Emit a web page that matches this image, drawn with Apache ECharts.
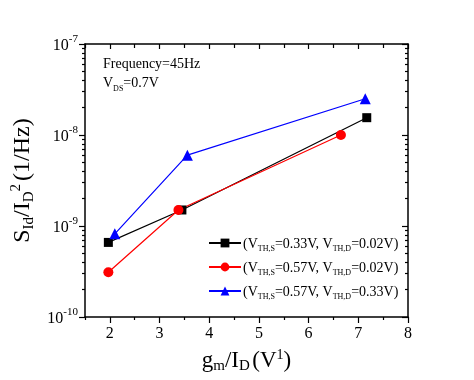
<!DOCTYPE html>
<html>
<head>
<meta charset="utf-8">
<script src="https://cdn.jsdelivr.net/npm/echarts@6/dist/echarts.min.js"></script>
<style>
html,body{margin:0;padding:0;background:#fff;}
#c{width:474px;height:380px;}
</style>
</head>
<body>
<div id="c"></div>
<script>
// ---- data ----
const seriesNames = ['s1', 's2', 's3'];
const seriesLegends = [
  ['0.33V', '0.02V'],
  ['0.57V', '0.02V'],
  ['0.57V', '0.33V']
];
const blackX = [1.97, 3.45, 7.17];
const blackY = [6.6e-10, 1.5e-9, 1.55e-8];
const redX = [1.97, 3.38, 6.65];
const redY = [3.1e-10, 1.5e-9, 1.0e-8];
const blueX = [2.1, 3.56, 7.14];
const blueY = [8.2e-10, 6.0e-9, 2.5e-8];
const xMajorTicks = [2, 3, 4, 5, 6, 7, 8];
const xMinorTicks = [1.5, 2.5, 3.5, 4.5, 5.5, 6.5, 7.5];
const yDecadeExps = [-10, -9, -8, -7];

const FONT = 'Liberation Serif';
const pairs = (xs, ys) => xs.map((x, i) => [x, ys[i]]);

// minor log tick positions (log10 space), for helper axes
const yMinorLog = [];
for (let n = yDecadeExps[0]; n < yDecadeExps[yDecadeExps.length - 1]; n++) {
  for (let k = 2; k <= 9; k++) yMinorLog.push(n + Math.log10(k));
}

const chart = echarts.init(document.getElementById('c'), null, {renderer: 'canvas'});
const lineC = '#000';
const grid = {left: 85, right: 66, top: 44, bottom: 63};

const baseX = {
  type: 'value', min: 1.5, max: 8, interval: 0.5,
  splitLine: {show: false}
};
const baseYLog = {
  type: 'log', logBase: 10, min: 1e-10, max: 1e-7,
  splitLine: {show: false}, minorTick: {show: false}
};
const baseYLin = {
  type: 'value', min: -10, max: -7, interval: 1,
  splitLine: {show: false}, axisLine: {show: false},
  axisLabel: {show: false}
};

const legendRich = {
  t: {fontFamily: FONT, fontSize: 14, color: '#000', lineHeight: 16, verticalAlign: 'bottom'},
  s: {fontFamily: FONT, fontSize: 8, color: '#000', lineHeight: 16, verticalAlign: 'bottom', padding: [0, 0, -2, 0]}
};

const option = {
  backgroundColor: '#fff',
  animation: false,
  grid: grid,
  xAxis: [
    Object.assign({}, baseX, {
      position: 'bottom',
      axisLine: {show: true, onZero: false, lineStyle: {color: lineC, width: 1.5}},
      axisTick: {show: true, inside: false, length: 6, customValues: xMajorTicks, lineStyle: {color: lineC, width: 1.2}},
      axisLabel: {show: true, customValues: xMajorTicks, color: '#000', fontFamily: FONT, fontSize: 16, margin: 9},
      name: 'g{sub|m}/I{sub|D}{sp| }(V{sup|1})',
      nameLocation: 'middle', nameGap: 31,
      nameTextStyle: {
        fontFamily: FONT, fontSize: 23, color: '#000',
        rich: {
          sub: {fontFamily: FONT, fontSize: 15, color: '#000', verticalAlign: 'bottom', lineHeight: 26},
          sup: {fontFamily: FONT, fontSize: 14, color: '#000', verticalAlign: 'top', lineHeight: 26},
          sp: {fontFamily: FONT, fontSize: 10}
        }
      }
    }),
    Object.assign({}, baseX, {
      position: 'bottom',
      axisLine: {show: false, onZero: false},
      axisTick: {show: true, inside: false, length: 3, customValues: xMinorTicks, lineStyle: {color: lineC, width: 1.2}},
      axisLabel: {show: false}
    }),
    Object.assign({}, baseX, {
      position: 'top',
      axisLine: {show: true, onZero: false, lineStyle: {color: lineC, width: 1.5}},
      axisTick: {show: true, inside: true, length: 5, customValues: xMajorTicks, lineStyle: {color: lineC, width: 1.2}},
      axisLabel: {show: false}
    }),
    Object.assign({}, baseX, {
      position: 'top',
      axisLine: {show: false, onZero: false},
      axisTick: {show: true, inside: true, length: 4, customValues: xMinorTicks, lineStyle: {color: lineC, width: 1.2}},
      axisLabel: {show: false}
    })
  ],
  yAxis: [
    Object.assign({}, baseYLog, {
      position: 'left',
      axisLine: {show: true, onZero: false, lineStyle: {color: lineC, width: 1.5}},
      axisTick: {show: true, inside: false, length: 6, lineStyle: {color: lineC, width: 1.2}},
      axisLabel: {
        show: true, margin: 7, color: '#000',
        formatter: function (v) {
          const e = Math.round(Math.log10(v));
          return '{b|10}{e|' + e + '}';
        },
        rich: {
          b: {fontFamily: FONT, fontSize: 16, color: '#000', lineHeight: 20, verticalAlign: 'bottom'},
          e: {fontFamily: FONT, fontSize: 11, color: '#000', lineHeight: 20, verticalAlign: 'top'}
        }
      },
      name: 'S{sub|Id}/I{sub|D}{sup|2}{sp| }(1/Hz)',
      nameLocation: 'middle', nameGap: 35, nameRotate: 90,
      nameTextStyle: {
        fontFamily: FONT, fontSize: 24, color: '#000',
        rich: {
          sub: {fontFamily: FONT, fontSize: 15, color: '#000', verticalAlign: 'bottom', lineHeight: 28},
          sup: {fontFamily: FONT, fontSize: 15, color: '#000', verticalAlign: 'top', lineHeight: 28},
          sp: {fontFamily: FONT, fontSize: 12}
        }
      }
    }),
    Object.assign({}, baseYLog, {
      position: 'right',
      axisLine: {show: true, onZero: false, lineStyle: {color: lineC, width: 1.5}},
      axisTick: {show: true, inside: true, length: 6, lineStyle: {color: lineC, width: 1.2}},
      axisLabel: {show: false}
    }),
    Object.assign({}, baseYLin, {
      position: 'left',
      axisTick: {show: true, inside: false, length: 3, customValues: yMinorLog, lineStyle: {color: lineC, width: 1.2}}
    }),
    Object.assign({}, baseYLin, {
      position: 'right',
      axisTick: {show: true, inside: true, length: 3, customValues: yMinorLog, lineStyle: {color: lineC, width: 1.2}}
    })
  ],
  legend: {
    orient: 'vertical',
    left: 208, top: 237,
    itemWidth: 32, itemHeight: 11, itemGap: 8,
    padding: 0,
    selectedMode: false,
    data: seriesNames,
    formatter: function (name) {
      const i = seriesNames.indexOf(name);
      const v = seriesLegends[i];
      return '{t|(V}{s|TH,S}{t|=' + v[0] + ', V}{s|TH,D}{t|=' + v[1] + ')}';
    },
    textStyle: {fontFamily: FONT, fontSize: 14, color: '#000', padding: [0, 0, 0, -3], rich: legendRich}
  },
  graphic: [
    {
      type: 'text', left: 103, top: 57, silent: true,
      style: {text: 'Frequency=45Hz', fontFamily: FONT, fontSize: 14, fill: '#000'}
    },
    {
      type: 'text', left: 103, top: 76, silent: true,
      style: {
        text: '{t|V}{s|DS}{t|=0.7V}',
        rich: {
          t: {fontFamily: FONT, fontSize: 14, fill: '#000', color: '#000', lineHeight: 18, verticalAlign: 'bottom'},
          s: {fontFamily: FONT, fontSize: 8, fill: '#000', color: '#000', lineHeight: 18, verticalAlign: 'bottom', padding: [0, 0, -3, 0]}
        }
      }
    }
  ],
  series: [
    {
      name: seriesNames[0], type: 'line', xAxisIndex: 0, yAxisIndex: 0,
      data: pairs(blackX, blackY),
      symbol: 'rect', symbolSize: 9,
      itemStyle: {color: '#000'}, lineStyle: {color: '#000', width: 1.2}
    },
    {
      name: seriesNames[1], type: 'line', xAxisIndex: 0, yAxisIndex: 0,
      data: pairs(redX, redY),
      symbol: 'circle', symbolSize: 10,
      itemStyle: {color: '#ff0000'}, lineStyle: {color: '#ff0000', width: 1.2}
    },
    {
      name: seriesNames[2], type: 'line', xAxisIndex: 0, yAxisIndex: 0,
      data: pairs(blueX, blueY),
      symbol: 'triangle', symbolSize: 11,
      itemStyle: {color: '#0000ff'}, lineStyle: {color: '#0000ff', width: 1.2}
    }
  ]
};
chart.setOption(option);
</script>
</body>
</html>
